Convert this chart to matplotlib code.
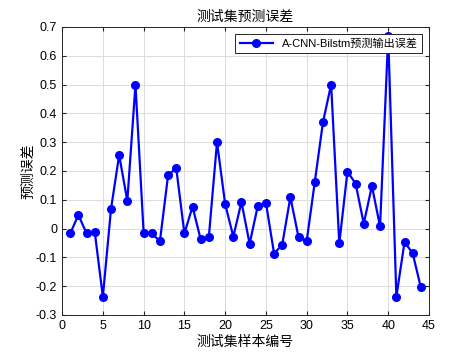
import numpy as np
import matplotlib
matplotlib.use("Agg")
import matplotlib.pyplot as plt

plt.rcParams['font.family'] = ['Liberation Sans', 'Noto Sans CJK SC', 'DejaVu Sans']

# prediction error for each test sample
sample_idx = list(range(1, 45))
errors = [
    -0.017, 0.047, -0.017, -0.011, -0.237, 0.068, 0.255, 0.096, 0.500, -0.014,
    -0.017, -0.044, 0.185, 0.210, -0.017, 0.076, -0.038, -0.029, 0.300, 0.085,
    -0.028, 0.092, -0.053, 0.078, 0.090, -0.087, -0.056, 0.109, -0.030, -0.044,
    0.163, 0.370, 0.500, -0.052, 0.198, 0.156, 0.017, 0.148, 0.007, 0.669,
    -0.237, -0.047, -0.086, -0.204,
]
xticks = list(range(0, 50, 5))
yticks = [round(v, 1) for v in np.arange(-0.3, 0.71, 0.1)]

fig = plt.figure(figsize=(4.74, 3.55), dpi=100)
ax = fig.add_axes([0.131, 0.113, 0.774, 0.811])

ax.plot(sample_idx, errors, color=(0, 0, 1), linewidth=1.6, marker='o',
        markersize=5.5, label='A-CNN-Bilstm预测输出误差')

ax.set_xlim(0, 45)
ax.set_ylim(-0.3, 0.7)
ax.set_xticks(xticks)
ax.set_yticks(yticks)
ax.set_yticklabels([f"{v:g}" for v in yticks])
ax.tick_params(labelsize=9, direction='in', length=3, color='#262626',
               top=True, right=True)
ax.grid(True, color='#dcdcdc', linewidth=0.7)
ax.set_axisbelow(True)
for sp in ax.spines.values():
    sp.set_color('#262626')
    sp.set_linewidth(0.7)

ax.set_title('测试集预测误差', fontsize=10, family=['Noto Sans CJK SC'], pad=4)
ax.set_xlabel('测试集样本编号', fontsize=10, family=['Noto Sans CJK SC'], labelpad=2)
ax.set_ylabel('预测误差', fontsize=10, family=['Noto Sans CJK SC'], labelpad=0)

leg = ax.legend(loc='upper right', fontsize=8, fancybox=False, framealpha=1,
                edgecolor='#262626', borderpad=0.4, handlelength=3.0,
                borderaxespad=0.6)
leg.get_frame().set_linewidth(0.7)

fig.savefig('out.png', dpi=100)
